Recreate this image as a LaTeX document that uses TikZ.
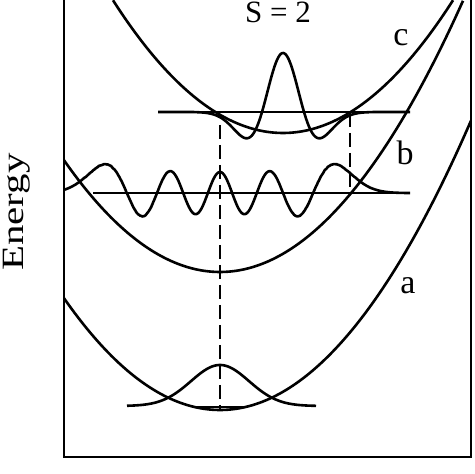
\documentclass[tikz,border=0pt]{standalone}
\usepackage{fontspec}
\setmainfont{Liberation Serif}
\usetikzlibrary{calc}

\begin{document}
\begin{tikzpicture}[x=0.5pt, y=0.5pt,
    declare function={
      well(\x,\h,\v) = \v + 0.0046*(\x-\h)*(\x-\h);
      hat(\u) = (1-(\u)*(\u))*exp(-(\u)*(\u)/2);
      gauss(\u) = exp(-(\u)*(\u)/2);
      psieight(\u) = exp(-(\u)*(\u)/2) - 8*(\u)*(\u)*exp(-(\u)*(\u)/2)
        + 8*((\u)*(\u)*exp(-(\u)*(\u)/4))^2
        - 32/15*((\u)*(\u)*exp(-(\u)*(\u)/6))^3
        + 16/105*((\u)*(\u)*exp(-(\u)*(\u)/8))^4;
    },
    curve/.style={line width=1.3pt, line join=round},
    level/.style={line width=0.9pt},
    frame/.style={line width=1pt},
    dropline/.style={line width=0.8pt, dash pattern=on 7pt off 3pt},
    lab/.style={font=\fontsize{17}{19}\selectfont, inner sep=0pt}]
  \useasboundingbox (0,0) rectangle (474,474);
  % Frame, open at the top.
  \coordinate (box-sw) at (64,17);
  \coordinate (box-se) at (471,17);
  \coordinate (box-nw) at (64,474);
  \coordinate (box-ne) at (471,474);
  \draw[frame] (box-nw) -- (box-sw) -- (box-se) -- (box-ne);
  \begin{scope}
    \clip (box-sw) rectangle (box-ne);
    % Potential wells a, b, c.
    \draw[curve] plot[domain=64:471, samples=120] (\x, {well(\x,220,64)});
    \draw[curve] plot[domain=64:463, samples=120] (\x, {well(\x,220,202)});
    \draw[curve] plot[domain=113:453, samples=120] (\x, {well(\x,283,341)});
    % Vibrational wave functions.
    \draw[curve] plot[domain=127:316, samples=120] (\x, {68 + 41*gauss((\x-220)/29)});
    \draw[curve] plot[domain=64:410, samples=350] (\x, {281 + 21*psieight((\x-220)/31.8)});
    \draw[curve] plot[domain=158:410, samples=200] (\x, {362 + 59*hat((\x-283)/21)});
  \end{scope}
  % Levels.
  \coordinate (lev-a-l) at (197,67);
  \coordinate (lev-a-r) at (243,67);
  \coordinate (lev-b-l) at (93,281);
  \coordinate (lev-b-r) at (410,281);
  \coordinate (lev-c-l) at (158,362);
  \coordinate (lev-c-r) at (410,362);
  \draw[level] (lev-a-l) -- (lev-a-r);
  \draw[level] (lev-b-l) -- (lev-b-r);
  \draw[level] (lev-c-l) -- (lev-c-r);
  % Vertical transitions.
  \coordinate (drop-top) at (220,349);
  \coordinate (drop-bot) at (220,64);
  \coordinate (turn-c) at (350,361);
  \coordinate (turn-b) at (350,281);
  \draw[dropline] (drop-top) -- (drop-bot);
  \draw[dropline] (turn-c) -- (turn-b);
  % Labels.
  \node[font=\fontsize{15.5}{18}\selectfont, inner sep=0pt] (huang) at (278,462) {S = 2};
  \node[lab] (lab-c) at (401,436) {c};
  \node[lab] (lab-b) at (405,321) {b};
  \node[lab] (lab-a) at (408,188) {a};
  \node[rotate=90, font=\fontsize{15.5}{18}\selectfont, inner sep=0pt] (energy) at (17,262)
    {\scalebox{1.32}[1]{Energy}};
\end{tikzpicture}
\end{document}
